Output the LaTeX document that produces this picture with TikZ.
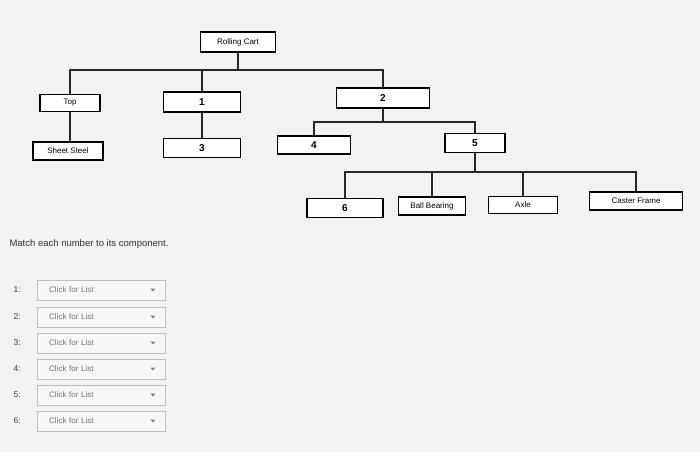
\documentclass[tikz,border=0pt]{standalone}
\usepackage{fontspec}
\setmainfont{Liberation Sans}
\usetikzlibrary{calc}
\begin{document}
\begin{tikzpicture}[x=1pt,y=-1pt,
  bx/.style={draw=black,line width=1.2pt,fill=white,inner sep=0pt,font=\fontsize{8}{9}\selectfont},
  num/.style={bx,font=\bfseries\fontsize{10}{11}\selectfont},
  ln/.style={line width=1.6pt,draw=black!85},
  dd/.style={draw=black!25,fill=black!3,text width=116pt,align=left,minimum height=20pt,inner xsep=6pt,inner ysep=0pt,font=\fontsize{8}{9}\selectfont,text=black!55},
  lab/.style={font=\fontsize{8.5}{9}\selectfont,text=black!75,anchor=west}]
\fill[black!5] (0,0) rectangle (700,452);
\useasboundingbox (0,0) rectangle (700,452);
\node[bx,minimum width=75pt,minimum height=20pt] (rc) at (238,42) {Rolling Cart};
\node[bx,minimum width=60pt,minimum height=17pt] (top) at (70,103) {Top};
\node[num,minimum width=77pt,minimum height=20pt] (n1) at (202,102) {1};
\node[num,minimum width=93pt,minimum height=20pt] (n2) at (383,98) {2};
\node[bx,minimum width=70pt,minimum height=18pt] (ss) at (68,151) {Sheet Steel};
\node[num,minimum width=77pt,minimum height=19pt] (n3) at (202,148) {3};
\node[num,minimum width=73pt,minimum height=18pt] (n4) at (314,145) {4};
\node[num,minimum width=60pt,minimum height=19pt] (n5) at (475,143) {5};
\node[num,minimum width=76pt,minimum height=19pt] (n6) at (345,208) {6};
\node[bx,minimum width=67pt,minimum height=18pt] (bb) at (432,206) {Ball Bearing};
\node[bx,minimum width=69pt,minimum height=17pt] (ax) at (523,205) {Axle};
\node[bx,minimum width=93pt,minimum height=18pt] (cf) at (636,201) {Caster Frame};
\coordinate (b1) at (238,70);
\coordinate (b2) at (383,122);
\coordinate (b3) at (475,172);
\draw[ln] (rc.south) -- (b1);
\draw[ln] (top.north) |- (b1) -| (n2.north);
\draw[ln] (n1.north) -- (n1.north |- b1);
\draw[ln] (top.south) -- (ss.north -| top.south);
\draw[ln] (n1.south) -- (n3.north);
\draw[ln] (n2.south) -- (b2);
\draw[ln] (n4.north) |- (b2) -| (n5.north);
\draw[ln] (n5.south) -- (b3);
\draw[ln] (n6.north) |- (b3) -| (cf.north);
\draw[ln] (bb.north) -- (bb.north |- b3);
\draw[ln] (ax.north) -- (ax.north |- b3);
\node[anchor=west,font=\fontsize{9.5}{10}\selectfont,text=black!80] (mt) at (6,244) {Match each number to its component.};
\foreach \i/\y in {1/290,2/317,3/343,4/369,5/395,6/421}{
  \node[lab] (l\i) at (10,\y) {\i:};
  \node[dd,anchor=west] (d\i) at (37,\y) {\hspace*{6pt}Click for List};
  \fill[black!50] ($(d\i.east)+(-15,-1.5)$) -- ++(5,0) -- ++(-2.5,3) -- cycle;
}
\end{tikzpicture}
\end{document}
